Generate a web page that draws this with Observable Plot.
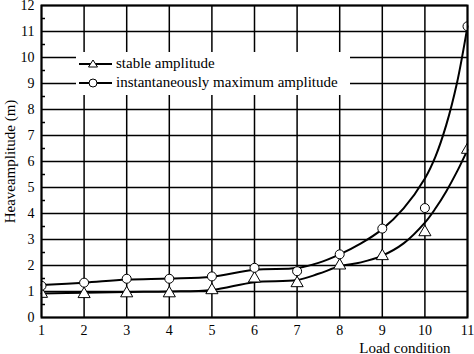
<!DOCTYPE html>
<html>
<head>
<meta charset="utf-8">
<script src="https://cdn.jsdelivr.net/npm/d3@7"></script>
<script src="https://cdn.jsdelivr.net/npm/@observablehq/plot@0.6"></script>
<style>
  html, body { margin: 0; padding: 0; background: #fff; }
  #wrap { position: relative; width: 474px; height: 354px; overflow: hidden; font-family: "Liberation Serif", "DejaVu Serif", "Times New Roman", serif; }
  #wrap svg text { font-family: "Liberation Serif", "DejaVu Serif", "Times New Roman", serif; }
  #legend { position: absolute; left: 76px; top: 52px; width: 274px; height: 43px; background: #fff; }
  #legend .row { position: absolute; left: 0; height: 19px; display: flex; align-items: center; font-size: 15px; color: #000; white-space: nowrap; font-family: "Liberation Serif", "DejaVu Serif", serif; }
  #legend svg { margin-right: 4px; }
</style>
</head>
<body>
<div id="wrap"></div>
<script>
// Data
const loadCondition = [1, 2, 3, 4, 5, 6, 7, 8, 9, 10, 11];
const stableAmplitude = [0.91, 0.90, 0.93, 0.93, 1.05, 1.50, 1.32, 2.00, 2.36, 3.28, 6.45];
const instMaxAmplitude = [1.22, 1.34, 1.49, 1.49, 1.58, 1.91, 1.78, 2.43, 3.42, 4.21, 11.2];

// Fitted curves as drawn in the reference
const stableCurveX = [1, 2, 3, 4, 5, 6, 7, 7.5, 8, 8.5, 9, 9.5, 10, 10.25, 10.5, 10.75, 11];
const stableCurveY = [0.92, 0.95, 0.98, 1.0, 1.06, 1.36, 1.44, 1.68, 1.97, 2.12, 2.38, 2.85, 3.65, 4.2, 4.85, 5.6, 6.45];
const instCurveX = [1, 2, 3, 4, 5, 6, 7, 7.5, 8, 8.5, 9, 9.5, 10, 10.25, 10.5, 10.75, 11];
const instCurveY = [1.25, 1.34, 1.46, 1.5, 1.57, 1.84, 1.9, 2.1, 2.43, 2.85, 3.4, 4.2, 5.35, 6.2, 7.4, 9.0, 11.2];

const xTicks = [1, 2, 3, 4, 5, 6, 7, 8, 9, 10, 11];
const yTicks = [0, 1, 2, 3, 4, 5, 6, 7, 8, 9, 10, 11, 12];
const yMinorTicks = [0.5, 1.5, 2.5, 3.5, 4.5, 5.5, 6.5, 7.5, 8.5, 9.5, 10.5, 11.5];

const seriesLabels = ["stable amplitude", "instantaneously maximum amplitude"];
const xLabel = "Load condition";
const yLabel = "Heaveamplitude (m)";

const points = loadCondition.map((x, i) => ({x, stable: stableAmplitude[i], inst: instMaxAmplitude[i]}));
const stableCurve = stableCurveX.map((x, i) => ({x, y: stableCurveY[i]}));
const instCurve = instCurveX.map((x, i) => ({x, y: instCurveY[i]}));

const serif = "'Liberation Serif', 'DejaVu Serif', 'Times New Roman', serif";

const chart = Plot.plot({
  width: 474,
  height: 354,
  marginLeft: 41,
  marginRight: 7,
  marginTop: 5,
  marginBottom: 37,
  style: {fontFamily: serif, fontSize: "14px", color: "#000", background: "#fff", overflow: "visible"},
  x: {domain: [1, 11], ticks: xTicks, label: null},
  y: {domain: [0, 12], ticks: yTicks, label: null},
  marks: [
    Plot.gridX(xTicks, {stroke: "#000", strokeOpacity: 1, strokeWidth: 1.5}),
    Plot.gridY(yTicks, {stroke: "#000", strokeOpacity: 1, strokeWidth: 1.5}),
    Plot.axisX(xTicks, {tickSize: 0, tickPadding: 8, fontSize: 14, fontFamily: serif, tickFormat: d => String(d)}),
    Plot.axisY(yTicks, {tickSize: 0, tickPadding: 7, fontSize: 14, fontFamily: serif, tickFormat: d => String(d)}),
    Plot.axisY(yMinorTicks, {tickSize: -4, strokeWidth: 1.5, tickFormat: () => ""}),
    Plot.line(stableCurve, {x: "x", y: "y", curve: "catmull-rom", stroke: "#000", strokeWidth: 2}),
    Plot.line(instCurve, {x: "x", y: "y", curve: "catmull-rom", stroke: "#000", strokeWidth: 2}),
    Plot.dot(points, {x: "x", y: "stable", symbol: "triangle", r: 4.5, fill: "#fff", stroke: "#000", strokeWidth: 1, clip: true}),
    Plot.dot(points, {x: "x", y: "inst", symbol: "circle", r: 4.5, fill: "#fff", stroke: "#000", strokeWidth: 1, clip: true}),
    Plot.frame({stroke: "#000", strokeWidth: 2}),
    Plot.text([xLabel], {frameAnchor: "bottom-right", dy: 35, dx: -17, textAnchor: "end", fontSize: 15, fontFamily: serif}),
    Plot.text([yLabel], {frameAnchor: "left", dx: -31, textAnchor: "middle", rotate: -90, fontSize: 15, fontFamily: serif})
  ]
});

const wrap = document.getElementById("wrap");
wrap.appendChild(chart);

// Legend inside the plot
const legend = document.createElement("div");
legend.id = "legend";
const symbols = [
  '<polygon points="17,3 21.5,10 12.5,10" fill="#fff" stroke="#000" stroke-width="1"/>',
  '<circle cx="17" cy="7" r="4" fill="#fff" stroke="#000" stroke-width="1"/>'
];
seriesLabels.forEach((lab, i) => {
  const row = document.createElement("div");
  row.className = "row";
  row.style.top = (2 + i * 19) + "px";
  row.innerHTML = `<svg width="36" height="14" viewBox="0 0 36 14"><line x1="3" x2="36" y1="7" y2="7" stroke="#000" stroke-width="2"/>${symbols[i]}</svg><span>${lab}</span>`;
  legend.appendChild(row);
});
wrap.appendChild(legend);
</script>
</body>
</html>
